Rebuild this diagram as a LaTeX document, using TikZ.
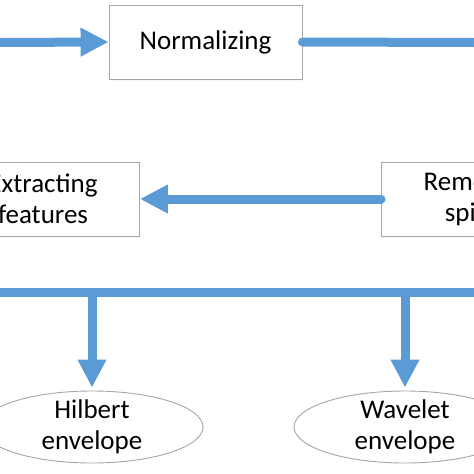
\documentclass[tikz,border=0pt]{standalone}
\usepackage{fontspec}
\setmainfont{Carlito}
\usetikzlibrary{arrows.meta,shapes.geometric,shadows}
\definecolor{flowblue}{HTML}{5B9BD5}
\definecolor{edgegray}{HTML}{A6A6A6}
\tikzset{
  block/.style={draw=edgegray, line width=0.9pt, fill=white, minimum width=193pt, minimum height=74pt,
    align=center, inner sep=0pt, drop shadow={fill=flowblue!12, shadow xshift=0pt, shadow yshift=-2pt, opacity=0.6}},
  envel/.style={ellipse, draw=edgegray, line width=0.9pt, fill=white, minimum width=222pt, minimum height=72pt,
    align=center, inner xsep=0pt, inner ysep=-8pt},
  flow/.style={draw=flowblue, line width=9pt, -{Triangle[length=28pt,width=27pt]}},
  line/.style={draw=flowblue, line width=9pt}
}
\begin{document}
\begin{tikzpicture}[x=1pt,y=-1pt, every node/.style={font=\fontsize{27}{31}\selectfont}]
\useasboundingbox (0,0) rectangle (474,474);
% boxes
\node[block] (norm) at (205.5,42) {Normalizing};
\node[block] (extract) at (43,199) {Extracting\\features};
\node[block] (remove) at (478,199) {Removing\\spikes};
% envelopes
\node[envel] (hilbert) at (92,427) {Hilbert\\envelope};
\node[envel] (wavelet) at (405,427) {Wavelet\\envelope};
% free ends
\coordinate (inL) at (0,42.5);
\coordinate (outR) at (474,42.5);
\coordinate (busL) at (0,292.5);
\coordinate (busR) at (474,292.5);
\coordinate (tapH) at (92,292.5);
\coordinate (tapW) at (405,292.5);
% connectors
\draw[flow] (inL) -- (norm.west);
\draw[line, line cap=round] (norm.east) -- (outR);
\draw[flow, line cap=round] (remove.west) -- (extract.east);
\draw[line] (busL) -- (busR);
\draw[flow, shorten >=3pt] (tapH) -- (hilbert.north);
\draw[flow, shorten >=3pt] (tapW) -- (wavelet.north);
\end{tikzpicture}
\end{document}
